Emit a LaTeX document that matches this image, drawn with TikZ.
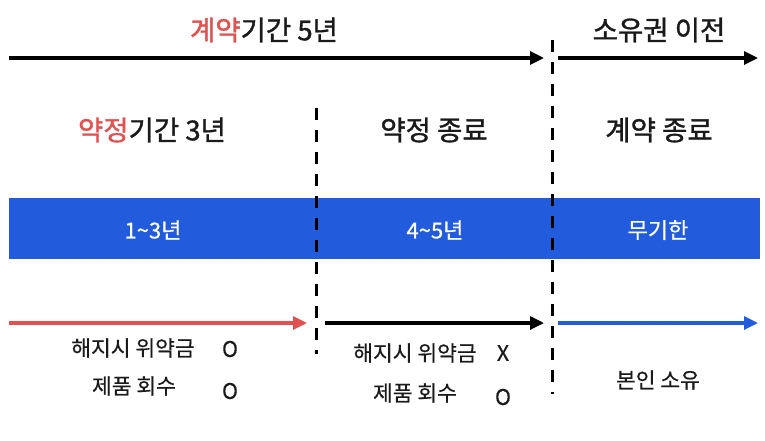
\documentclass[tikz,border=0pt]{standalone}
\usepackage{fontspec}
\setmainfont{Noto Sans CJK KR}
\newfontfamily\krmed[FakeBold=1.2]{Noto Sans CJK KR}
\newfontfamily\krreg[FakeBold=0.5]{Noto Sans CJK KR}
\usetikzlibrary{arrows.meta}
\definecolor{myred}{HTML}{E05252}
\definecolor{myblue}{HTML}{225BDB}
\definecolor{txt}{HTML}{1A1A1A}
\tikzset{
  title/.style={font=\krmed\fontsize{27.5}{32}\selectfont, text=txt, inner sep=0pt},
  band/.style={font=\krreg\fontsize{22}{26}\selectfont, text=white, inner sep=0pt},
  small/.style={font=\krreg\fontsize{21.5}{25}\selectfont, text=txt, inner sep=0pt},
  arr/.style={line width=3.2pt, -{Triangle[length=14pt,width=13pt]}},
  divider/.style={line width=3pt, dash pattern=on 12pt off 10pt},
}
\begin{document}
\begin{tikzpicture}[x=1pt,y=-1pt]
\useasboundingbox (0,0) rectangle (765,440);
% band
\fill[myblue] (9,198) rectangle (760,259);
% top arrows
\coordinate (t1s) at (9,58);
\coordinate (t1e) at (544,58);
\coordinate (t2s) at (558,58);
\coordinate (t2e) at (758,58);
\draw[arr] (t1s) -- (t1e);
\draw[arr] (t2s) -- (t2e);
% dividers
\coordinate (d1a) at (316,108);
\coordinate (d1b) at (316,354);
\coordinate (d2a) at (552,40);
\coordinate (d2b) at (552,394);
\draw[divider] (d1a) -- (d1b);
\draw[divider] (d2a) -- (d2b);
% titles
\node[title] (c5) at (264,30) {\textcolor{myred}{계약}기간 5년};
\node[title] (own) at (659,30) {소유권 이전};
\node[title] (p3) at (152,130) {\textcolor{myred}{약정}기간 3년};
\node[title] (pend) at (434,130) {약정 종료};
\node[title] (cend) at (659,130) {계약 종료};
% band texts
\node[band] (b1) at (153,230) {1\textasciitilde3년};
\node[band] (b2) at (435,230) {4\textasciitilde5년};
\node[band] (b3) at (658,230) {무기한};
% bottom arrows
\coordinate (a1s) at (9,323);
\coordinate (a1e) at (307,323);
\coordinate (a2s) at (325,323);
\coordinate (a2e) at (544,323);
\coordinate (a3s) at (558,323);
\coordinate (a3e) at (758,323);
\draw[arr, myred] (a1s) -- (a1e);
\draw[arr, black] (a2s) -- (a2e);
\draw[arr, myblue] (a3s) -- (a3e);
% bottom texts
\node[small] (l1) at (133,348) {해지시 위약금};
\node[small] (l1v) at (230,349) {O};
\node[small] (l2) at (134,386) {제품 회수};
\node[small] (l2v) at (230,391) {O};
\node[small] (m1) at (415,353) {해지시 위약금};
\node[small] (m1v) at (503,353) {X};
\node[small] (m2) at (415,393) {제품 회수};
\node[small] (m2v) at (503,397) {O};
\node[small] (r1) at (658,380) {본인 소유};
\end{tikzpicture}
\end{document}
